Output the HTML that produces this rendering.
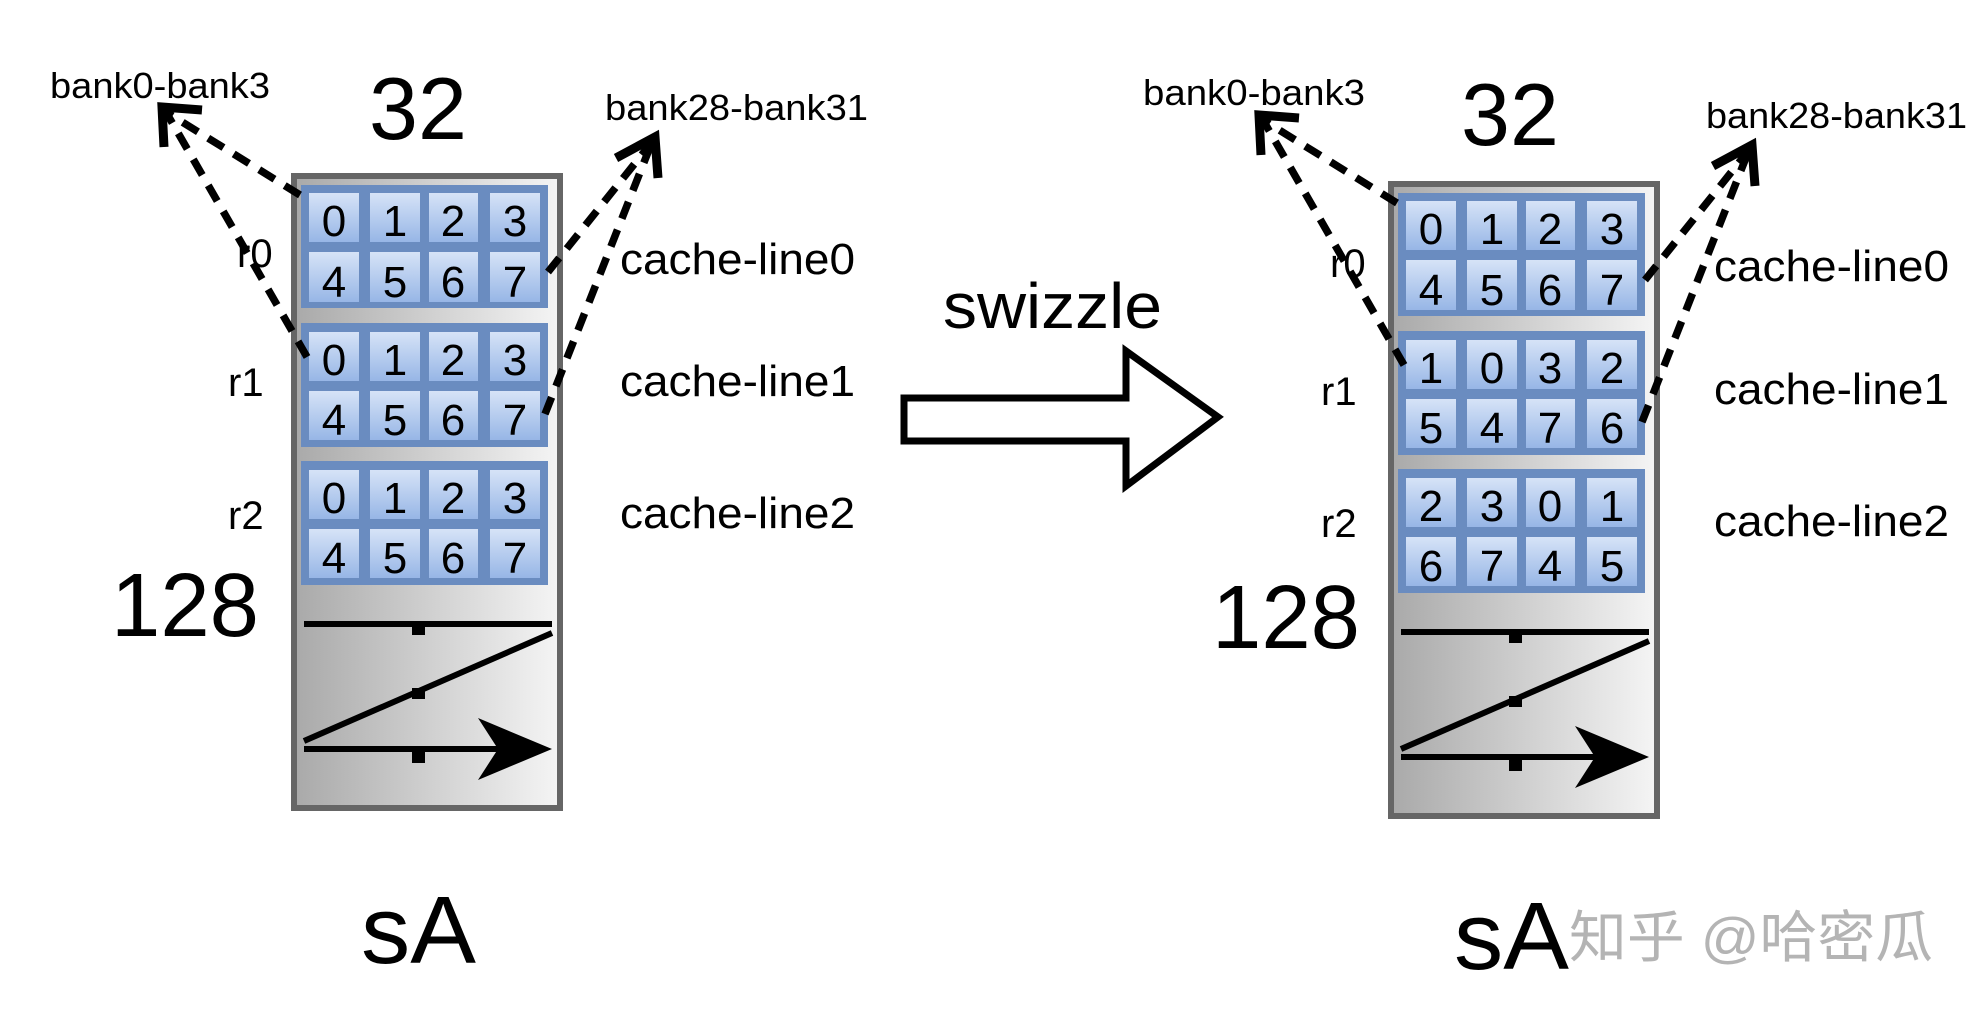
<!DOCTYPE html>
<html><head><meta charset="utf-8"><style>
html,body{margin:0;padding:0;background:#fff}
svg{display:block}
text{font-family:"Liberation Sans","Noto Sans CJK SC",sans-serif;fill:#000}
</style></head><body>
<svg width="1986" height="1012" viewBox="0 0 1986 1012" xmlns="http://www.w3.org/2000/svg">
<defs>
<linearGradient id="box" x1="0" x2="1" y1="0" y2="0"><stop offset="0" stop-color="#a9a9a9"/><stop offset="1" stop-color="#f5f5f5"/></linearGradient>
<linearGradient id="cell" x1="0" x2="0" y1="0" y2="1"><stop offset="0" stop-color="#d6e3f7"/><stop offset="1" stop-color="#97b6e6"/></linearGradient>
<g id="frame">
<rect x="294" y="176" width="266" height="632" fill="url(#box)" stroke="#666" stroke-width="6"/>
<rect x="301" y="185" width="247" height="123" fill="#6a8cc0"/>
<rect x="301" y="323" width="247" height="124" fill="#6a8cc0"/>
<rect x="301" y="461" width="247" height="124" fill="#6a8cc0"/>
<g fill="url(#cell)">
<rect x="309" y="193" width="50" height="49"/><rect x="370" y="193" width="50" height="49"/><rect x="429" y="193" width="49" height="49"/><rect x="490" y="193" width="50" height="49"/>
<rect x="309" y="252" width="50" height="50"/><rect x="370" y="252" width="50" height="50"/><rect x="429" y="252" width="49" height="50"/><rect x="490" y="252" width="50" height="50"/>
<rect x="309" y="332" width="50" height="49"/><rect x="370" y="332" width="50" height="49"/><rect x="429" y="332" width="49" height="49"/><rect x="490" y="332" width="50" height="49"/>
<rect x="309" y="391" width="50" height="49"/><rect x="370" y="391" width="50" height="49"/><rect x="429" y="391" width="49" height="49"/><rect x="490" y="391" width="50" height="49"/>
<rect x="309" y="470" width="50" height="49"/><rect x="370" y="470" width="50" height="49"/><rect x="429" y="470" width="49" height="49"/><rect x="490" y="470" width="50" height="49"/>
<rect x="309" y="529" width="50" height="49"/><rect x="370" y="529" width="50" height="49"/><rect x="429" y="529" width="49" height="49"/><rect x="490" y="529" width="50" height="49"/>
</g>
<g stroke="#000" stroke-width="6" fill="none">
<line x1="304" y1="624" x2="552" y2="624"/>
<line x1="552" y1="633" x2="304" y2="741"/>
<line x1="304" y1="749" x2="500" y2="749"/>
</g>
<polygon points="478,718 552,749 478,780 498,749" fill="#000"/>
<rect x="412" y="624" width="13" height="11" fill="#000"/>
<rect x="412" y="688" width="13" height="11" fill="#000"/>
<rect x="412" y="752" width="13" height="11" fill="#000"/>
</g>
</defs>

<!-- LEFT -->
<use href="#frame"/>
<g font-size="44" text-anchor="middle">
<text x="334" y="236">0</text><text x="395" y="236">1</text><text x="453" y="236">2</text><text x="515" y="236">3</text>
<text x="334" y="297">4</text><text x="395" y="297">5</text><text x="453" y="297">6</text><text x="515" y="297">7</text>
<text x="334" y="375">0</text><text x="395" y="375">1</text><text x="453" y="375">2</text><text x="515" y="375">3</text>
<text x="334" y="435">4</text><text x="395" y="435">5</text><text x="453" y="435">6</text><text x="515" y="435">7</text>
<text x="334" y="513">0</text><text x="395" y="513">1</text><text x="453" y="513">2</text><text x="515" y="513">3</text>
<text x="334" y="573">4</text><text x="395" y="573">5</text><text x="453" y="573">6</text><text x="515" y="573">7</text>
</g>
<text x="418" y="139" font-size="88" text-anchor="middle">32</text>
<text x="111" y="636" font-size="90" textLength="148" lengthAdjust="spacingAndGlyphs">128</text>
<text x="361" y="963" font-size="96" textLength="115" lengthAdjust="spacingAndGlyphs">sA</text>
<text x="50" y="98" font-size="36" textLength="220" lengthAdjust="spacingAndGlyphs">bank0-bank3</text>
<text x="605" y="120" font-size="36" textLength="263" lengthAdjust="spacingAndGlyphs">bank28-bank31</text>
<text x="237" y="267" font-size="40">r0</text>
<text x="228" y="396" font-size="40">r1</text>
<text x="228" y="529" font-size="40">r2</text>
<text x="620" y="274" font-size="44" textLength="235" lengthAdjust="spacingAndGlyphs">cache-line0</text>
<text x="620" y="396" font-size="44" textLength="235" lengthAdjust="spacingAndGlyphs">cache-line1</text>
<text x="620" y="528" font-size="44" textLength="235" lengthAdjust="spacingAndGlyphs">cache-line2</text>
<g stroke="#000" stroke-width="7.5" fill="none" stroke-dasharray="18 12">
<line x1="300" y1="195" x2="166" y2="112"/>
<line x1="307" y1="357" x2="166" y2="112"/>
<line x1="548" y1="272" x2="652" y2="142"/>
<line x1="545" y1="414" x2="652" y2="142"/>
</g>
<g stroke="#000" stroke-width="9" fill="none">
<polyline points="202,110 162,107 164,147"/>
<polyline points="616,158 655,137 658,178"/>
</g>

<!-- SWIZZLE -->
<text x="943" y="328" font-size="64" textLength="219" lengthAdjust="spacingAndGlyphs">swizzle</text>
<polygon points="904,398 1126,398 1126,351 1218,417 1126,486 1126,441 904,441" fill="#fff" stroke="#000" stroke-width="7"/>

<!-- RIGHT -->
<g transform="translate(1097,8)">
<use href="#frame"/>
<g font-size="44" text-anchor="middle">
<text x="334" y="236">0</text><text x="395" y="236">1</text><text x="453" y="236">2</text><text x="515" y="236">3</text>
<text x="334" y="297">4</text><text x="395" y="297">5</text><text x="453" y="297">6</text><text x="515" y="297">7</text>
<text x="334" y="375">1</text><text x="395" y="375">0</text><text x="453" y="375">3</text><text x="515" y="375">2</text>
<text x="334" y="435">5</text><text x="395" y="435">4</text><text x="453" y="435">7</text><text x="515" y="435">6</text>
<text x="334" y="513">2</text><text x="395" y="513">3</text><text x="453" y="513">0</text><text x="515" y="513">1</text>
<text x="334" y="573">6</text><text x="395" y="573">7</text><text x="453" y="573">4</text><text x="515" y="573">5</text>
</g>
<g stroke="#000" stroke-width="7.5" fill="none" stroke-dasharray="18 12">
<line x1="300" y1="195" x2="166" y2="112"/>
<line x1="307" y1="357" x2="166" y2="112"/>
<line x1="548" y1="272" x2="652" y2="142"/>
<line x1="545" y1="414" x2="652" y2="142"/>
</g>
<g stroke="#000" stroke-width="9" fill="none">
<polyline points="202,110 162,107 164,147"/>
<polyline points="616,158 655,137 658,178"/>
</g>
</g>
<text x="1510" y="145" font-size="88" text-anchor="middle">32</text>
<text x="1212" y="648" font-size="90" textLength="148" lengthAdjust="spacingAndGlyphs">128</text>
<text x="1454" y="969" font-size="96" textLength="115" lengthAdjust="spacingAndGlyphs">sA</text>
<text x="1143" y="105" font-size="36" textLength="222" lengthAdjust="spacingAndGlyphs">bank0-bank3</text>
<text x="1706" y="128" font-size="36" textLength="261" lengthAdjust="spacingAndGlyphs">bank28-bank31</text>
<text x="1330" y="277" font-size="40">r0</text>
<text x="1321" y="405" font-size="40">r1</text>
<text x="1321" y="537" font-size="40">r2</text>
<text x="1714" y="281" font-size="44" textLength="235" lengthAdjust="spacingAndGlyphs">cache-line0</text>
<text x="1714" y="404" font-size="44" textLength="235" lengthAdjust="spacingAndGlyphs">cache-line1</text>
<text x="1714" y="536" font-size="44" textLength="235" lengthAdjust="spacingAndGlyphs">cache-line2</text>

<text x="1569" y="957" font-size="56" style="fill:#b4b4b4" textLength="364" lengthAdjust="spacingAndGlyphs">知乎 @哈密瓜</text>
</svg>
</body></html>
